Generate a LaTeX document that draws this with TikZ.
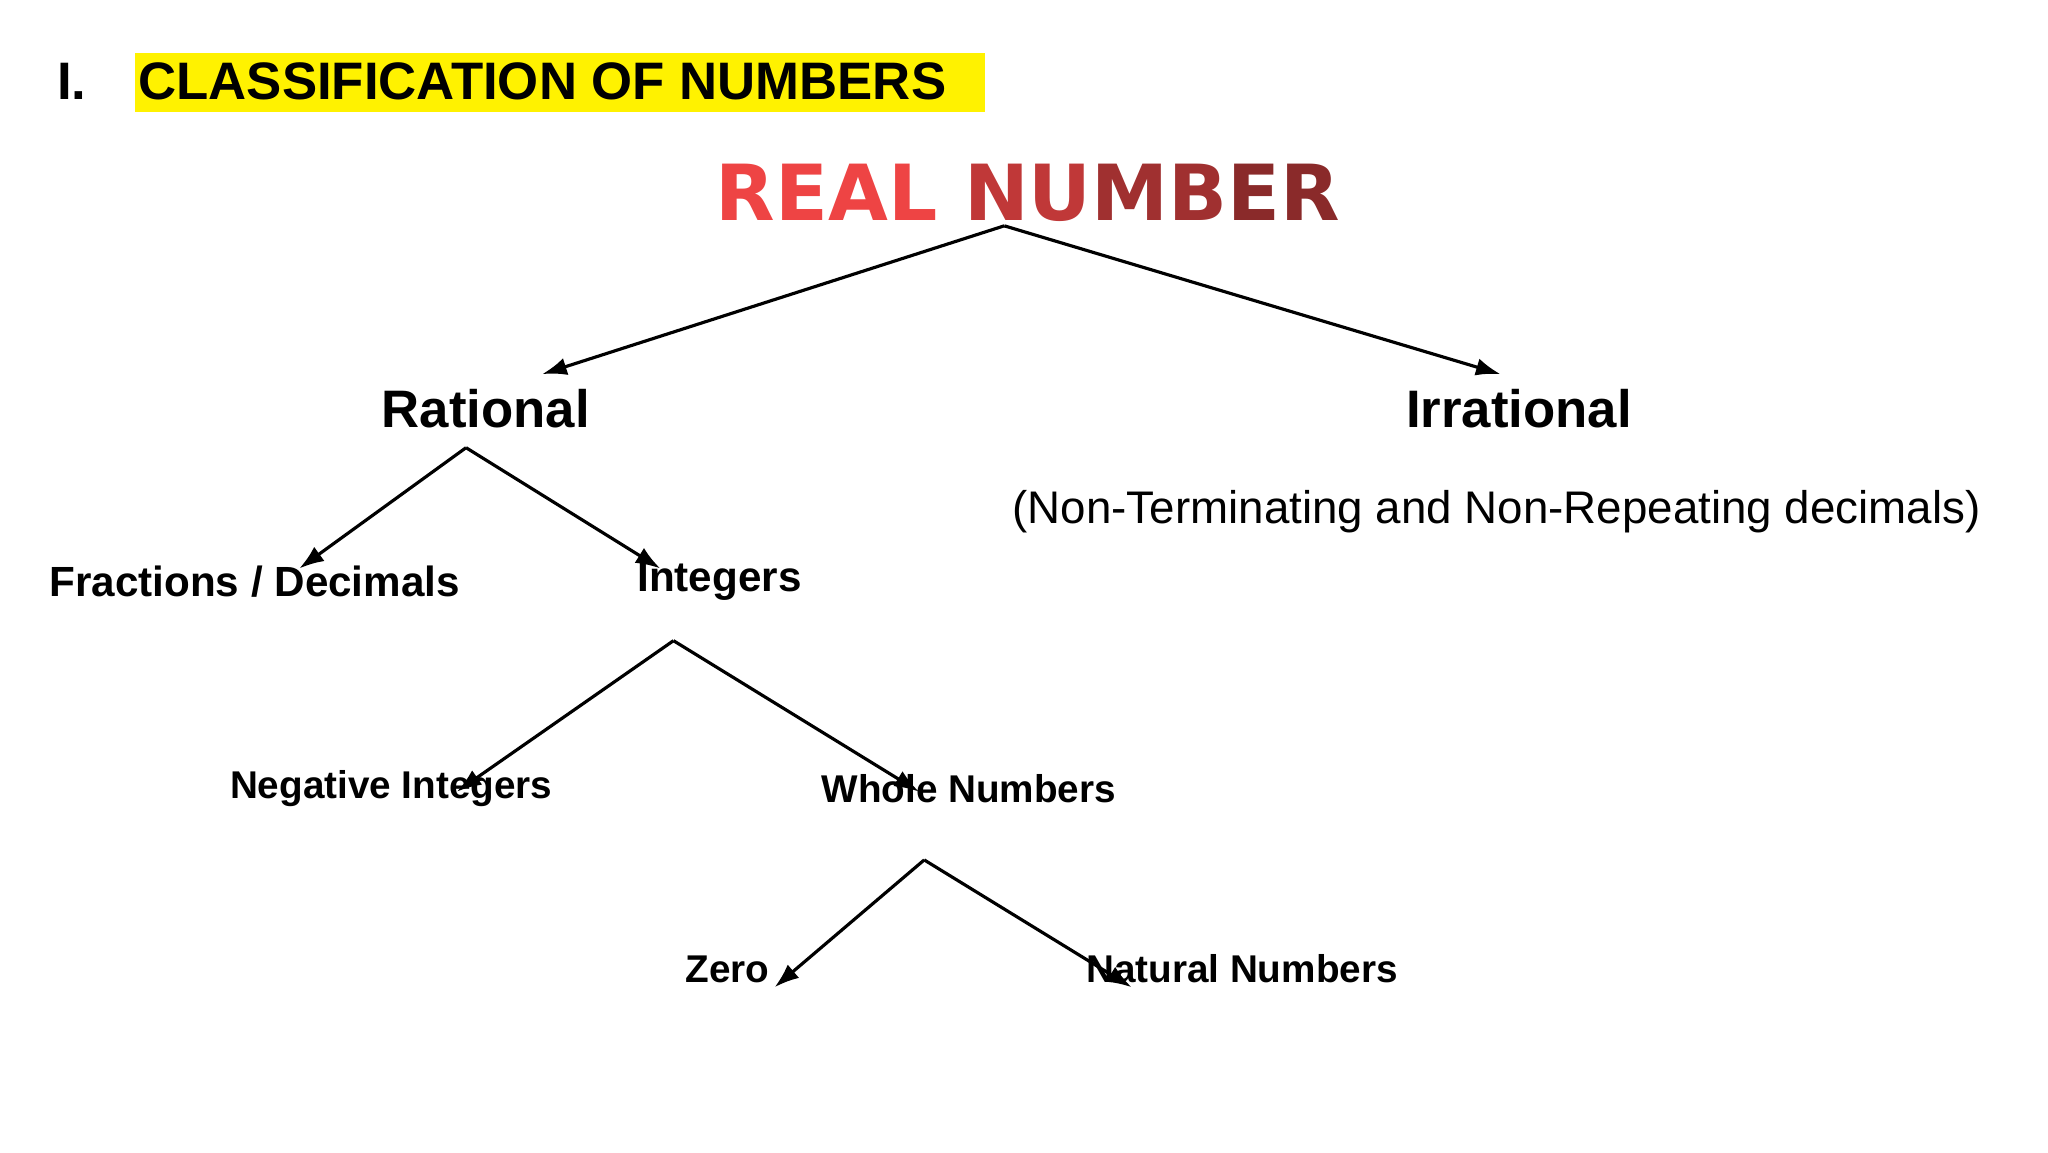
\documentclass[tikz,border=0pt]{standalone}
\usepackage{fontspec}
\setmainfont{Liberation Sans}
\newfontfamily\comic{DejaVu Sans}
\begin{document}
\begin{tikzpicture}[x=0.013128cm,y=-0.013128cm,
  lbl/.style={font=\bfseries\fontsize{#1}{#1}\selectfont,inner sep=0pt},
  arr/.style={-{Latex[length=7pt,width=5pt]},line width=0.9pt}]
\usetikzlibrary{arrows.meta}
\useasboundingbox (0,0) rectangle (1560,877.5);
\fill[yellow] (103,40) rectangle (750,85);
\node[lbl=15,anchor=west] (num) at (43,62) {I.};
\node[lbl=15,anchor=west] (title) at (105,62) {CLASSIFICATION OF NUMBERS};
\node[font=\comic\bfseries\fontsize{22}{22}\selectfont,inner sep=0pt] (real) at (783,147)
 {\textcolor[HTML]{EE4444}{REAL} \textcolor[HTML]{C03838}{NU}\textcolor[HTML]{A03030}{MB}\textcolor[HTML]{8A2A2A}{ER}};
\coordinate (r0) at (765,172);
\node[lbl=15] (rat) at (370,311) {Rational};
\node[lbl=15] (irr) at (1157,311) {Irrational};
\node[font=\fontsize{13}{13}\selectfont,inner sep=0pt] (irrd) at (1140,390) {(Non-Terminating and Non-Repeating decimals)};
\coordinate (q0) at (355,341);
\node[lbl=12] (frac) at (194,443) {Fractions / Decimals};
\node[lbl=12] (int) at (548,443) {Integers};
\coordinate (i0) at (513,488);
\node[lbl=11] (neg) at (298,601) {Negative Integers};
\node[lbl=11] (whole) at (738,601) {Whole Numbers};
\coordinate (w0) at (704,655);
\node[lbl=11] (zero) at (554,738) {Zero};
\node[lbl=11] (nat) at (946,738) {Natural Numbers};
\coordinate (a1) at (413,285); \coordinate (a2) at (1143,285);
\coordinate (b1) at (228,433); \coordinate (b2) at (503,433);
\coordinate (c1) at (348,603); \coordinate (c2) at (700,603);
\coordinate (d1) at (590,752); \coordinate (d2) at (862,752);
\draw[arr] (r0)--(a1); \draw[arr] (r0)--(a2);
\draw[arr] (q0)--(b1); \draw[arr] (q0)--(b2);
\draw[arr] (i0)--(c1); \draw[arr] (i0)--(c2);
\draw[arr] (w0)--(d1); \draw[arr] (w0)--(d2);
\end{tikzpicture}
\end{document}
